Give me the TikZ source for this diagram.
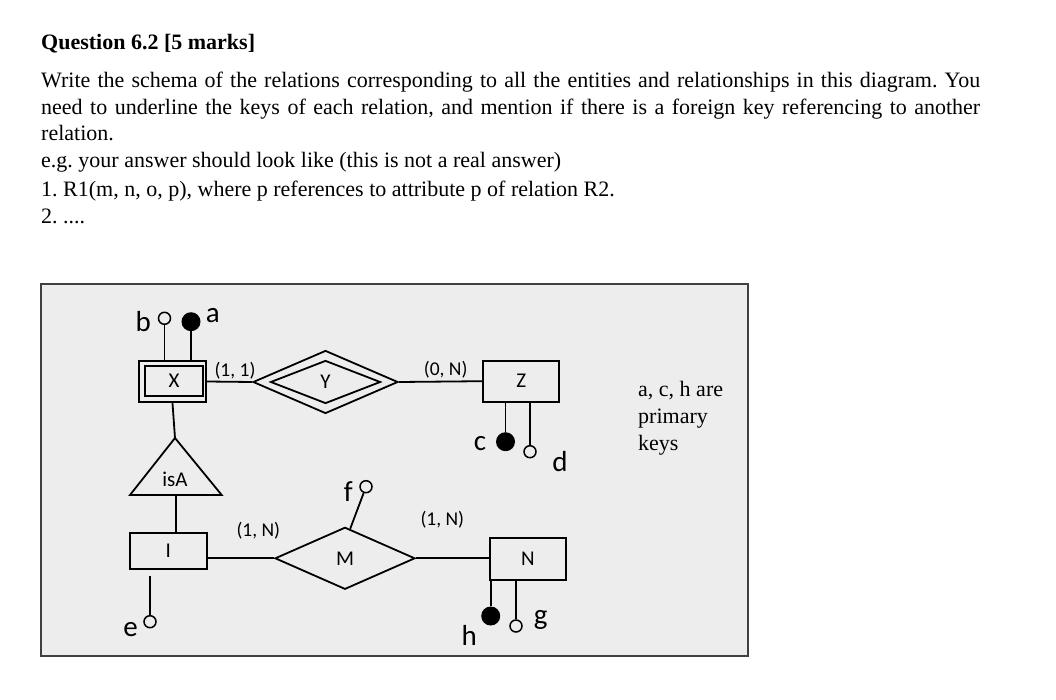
\documentclass[tikz,border=0pt]{standalone}
\usepackage{fontspec}
\setmainfont{Liberation Serif}
\newfontfamily\calfont{Carlito}
\usetikzlibrary{shapes.geometric,calc}
\definecolor{bgc}{HTML}{EDEDED}
\definecolor{framec}{HTML}{404040}
\frenchspacing
\begin{document}
\begin{tikzpicture}[x=1pt,y=-1pt,
  ln/.style={line width=1.8pt},
  ent/.style={draw, line width=1.8pt, rectangle, inner sep=0pt, font=\calfont\fontsize{21}{24}\selectfont},
  rel/.style={draw, line width=1.8pt, diamond, aspect=2, inner sep=0pt, font=\calfont\fontsize{21}{24}\selectfont},
  oatt/.style={draw, circle, line width=1.5pt, minimum size=12pt, inner sep=0pt},
  katt/.style={circle, fill=black, minimum size=19pt, inner sep=0pt},
  alab/.style={inner sep=0pt, font=\calfont\fontsize{29}{30}\selectfont},
  card/.style={inner sep=0pt, font=\calfont\fontsize{19.5}{22}\selectfont},
  body/.style={anchor=base west, inner sep=0pt, font=\fontsize{22}{27}\selectfont}
]
\useasboundingbox[fill=white] (0,0) rectangle (1056,700);

% question text
\node[body, font=\fontsize{22}{27}\selectfont\bfseries] (title) at (41,50) {Question 6.2 [5 marks]};
\node[body] (l1) at (41,88) {\makebox[939pt][s]{Write the schema of the relations corresponding to all the entities and relationships in this diagram. You}};
\node[body] (l2) at (41,115) {\makebox[939pt][s]{need to underline the keys of each relation, and mention if there is a foreign key referencing to another}};
\node[body] (l3) at (41,141) {relation.};
\node[body] (l4) at (41,168) {e.g. your answer should look like (this is not a real answer)};
\node[body] (l5) at (41,197) {1. R1(m, n, o, p), where p references to attribute p of relation R2.};
\node[body] (l6) at (41,224) {2. ....};

% diagram frame
\draw[fill=bgc, draw=framec, line width=1.5pt] (41,284) rectangle (748,656);

% entities and relationships
\node[ent, minimum width=67pt, minimum height=41.6pt] (Xo) at (172.5,381.5) {};
\node[ent, minimum width=58pt, minimum height=30pt] (X) at (174,381) {X};
\node[rel, minimum width=145pt, minimum height=63pt] (Yo) at (325.5,382) {};
\node[rel, minimum width=110pt, minimum height=43pt] (Y) at (325.5,382) {Y};
\node[ent, minimum width=75.7pt, minimum height=41pt] (Z) at (521.2,381.2) {Z};
\node[ent, minimum width=76.7pt, minimum height=36.6pt] (I) at (168.3,551) {I};
\node[rel, minimum width=140pt, minimum height=62pt] (M) at (345,558.3) {M};
\node[ent, minimum width=75.7pt, minimum height=41.7pt] (N) at (527.8,559.2) {N};

% isA triangle
\coordinate (isAtop) at (175,438);
\coordinate (isAbl) at (130,495);
\coordinate (isAbr) at (221.7,495);
\coordinate (isAb) at (176,495);
\draw[ln, line join=miter] (isAtop) -- (isAbr) -- (isAbl) -- cycle;
\node[inner sep=0pt, font=\calfont\fontsize{21}{24}\selectfont] (isA) at (175,479) {isA};

% connectors
\draw[ln] (Xo.east) -- (Yo.west);
\draw[ln] (Yo.east) -- (Z.west);
\draw[ln] (M.west) -- (M.west -| I.east);
\draw[ln] (M.east) -- (M.east -| N.west);
\draw[ln] (Xo.south) -- (isAtop);
\draw[ln] (isAb) -- (isAb |- I.north);

% cardinalities
\node[card] (c11) at (235,370.7) {(1, 1)};
\node[card] (c0N) at (445.7,370) {(0, N)};
\node[card] (c1Na) at (258.3,531) {(1, N)};
\node[card] (c1Nb) at (442.3,519.3) {(1, N)};

% attributes
\node[oatt] (b) at (164.5,318.3) {};
\draw[ln] (b) -- (b |- Xo.north);
\node[alab] (bl) at (143.3,321.7) {b};
\node[katt] (a) at (191,321.7) {};
\draw[ln] (a) -- (a |- Xo.north);
\node[alab] (al) at (212.7,316) {a};

\node[katt] (c) at (505.5,441.7) {};
\draw[ln] (c) -- (c |- Z.south);
\node[alab] (cl) at (480,443.3) {c};
\node[oatt] (d) at (530,451.7) {};
\draw[ln] (d) -- (d |- Z.south);
\node[alab] (dl) at (560,461.7) {d};

\node[oatt] (e) at (150,621.7) {};
\draw[ln, shorten >=6pt] (e) -- (e |- I.south);
\node[alab] (el) at (130.7,629.3) {e};

\node[oatt] (f) at (366,486.7) {};
\draw[ln] (M.80) -- (f);
\node[alab] (fl) at (348.3,491.7) {f};

\node[katt] (h) at (490.7,616) {};
\draw[ln] (h) -- (h |- N.south);
\node[alab] (hl) at (469.3,635) {h};
\node[oatt] (g) at (516,626) {};
\draw[ln] (g) -- (g |- N.south);
\node[alab] (gl) at (540.7,620) {g};

% note
\node[body] (n1) at (638,396) {a, c, h are};
\node[body] (n2) at (638,423.5) {primary};
\node[body] (n3) at (638,450) {keys};
\end{tikzpicture}
\end{document}
